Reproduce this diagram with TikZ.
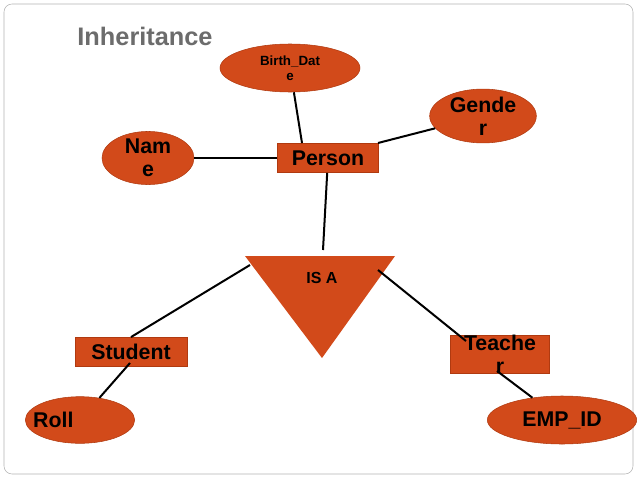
\documentclass[tikz,border=0pt]{standalone}
\usepackage{fontspec}
\setmainfont{Liberation Sans}
\usetikzlibrary{shapes.geometric}
\definecolor{og}{HTML}{D24A1A}
\definecolor{ob}{HTML}{B03A10}
\begin{document}
\begin{tikzpicture}[x=0.75pt,y=-0.75pt,
 ent/.style={draw=ob,fill=og,inner sep=0pt,font=\bfseries\fontsize{16}{17}\selectfont,align=center},
 att/.style={ellipse,draw=ob,fill=og,inner sep=0pt,font=\bfseries\fontsize{16}{17}\selectfont,align=center},
 ln/.style={line width=1.5pt,black}]
\useasboundingbox (0,0) rectangle (638,478);
\draw[gray!60,rounded corners=6pt] (4,4) rectangle (633,474);
\node[text=gray!85!black,font=\bfseries\fontsize{19}{21}\selectfont] (t) at (145,36) {Inheritance};
\node[att,minimum width=105pt,minimum height=36pt,font=\bfseries\fontsize{10}{11}\selectfont] (bd) at (290,68) {Birth\_Dat\\e};
\node[att,minimum width=80pt,minimum height=33pt] (g) at (483,116) {Gende\\r};
\node[att,minimum width=69pt,minimum height=33pt] (n) at (148,158) {Nam\\e};
\node[ent,minimum width=76pt,minimum height=22pt] (p) at (328,158) {Person};
\coordinate (tl) at (245,256); \coordinate (tr) at (395,256); \coordinate (tb) at (322,358);
\fill[og] (tl) -- (tr) -- (tb) -- cycle;
\node[font=\bfseries\fontsize{12}{13}\selectfont] (isa) at (322,278) {IS A};
\node[ent,minimum width=84pt,minimum height=22pt] (s) at (131,352) {Student};
\node[ent,minimum width=74pt,minimum height=25pt] (te) at (500,354) {Teache\\r};
\node[att,minimum width=82pt,minimum height=35pt] (r) at (80,420) {\hspace*{-2.5em}Roll};
\node[att,minimum width=112pt,minimum height=36pt] (e) at (562,420) {EMP\_ID};
\coordinate (a1) at (323,250); \coordinate (a2) at (250,265); \coordinate (a3) at (378,270);
\draw[ln] (n) -- (p.west);
\draw[ln] (bd) -- (302,143);
\draw[ln] (g) -- (378,143);
\draw[ln] (p) -- (a1);
\draw[ln] (a2) -- (s.north);
\draw[ln] (a3) -- (466,341);
\draw[ln] (130,363) -- (r);
\draw[ln] (497,371) -- (e);
\end{tikzpicture}
\end{document}
